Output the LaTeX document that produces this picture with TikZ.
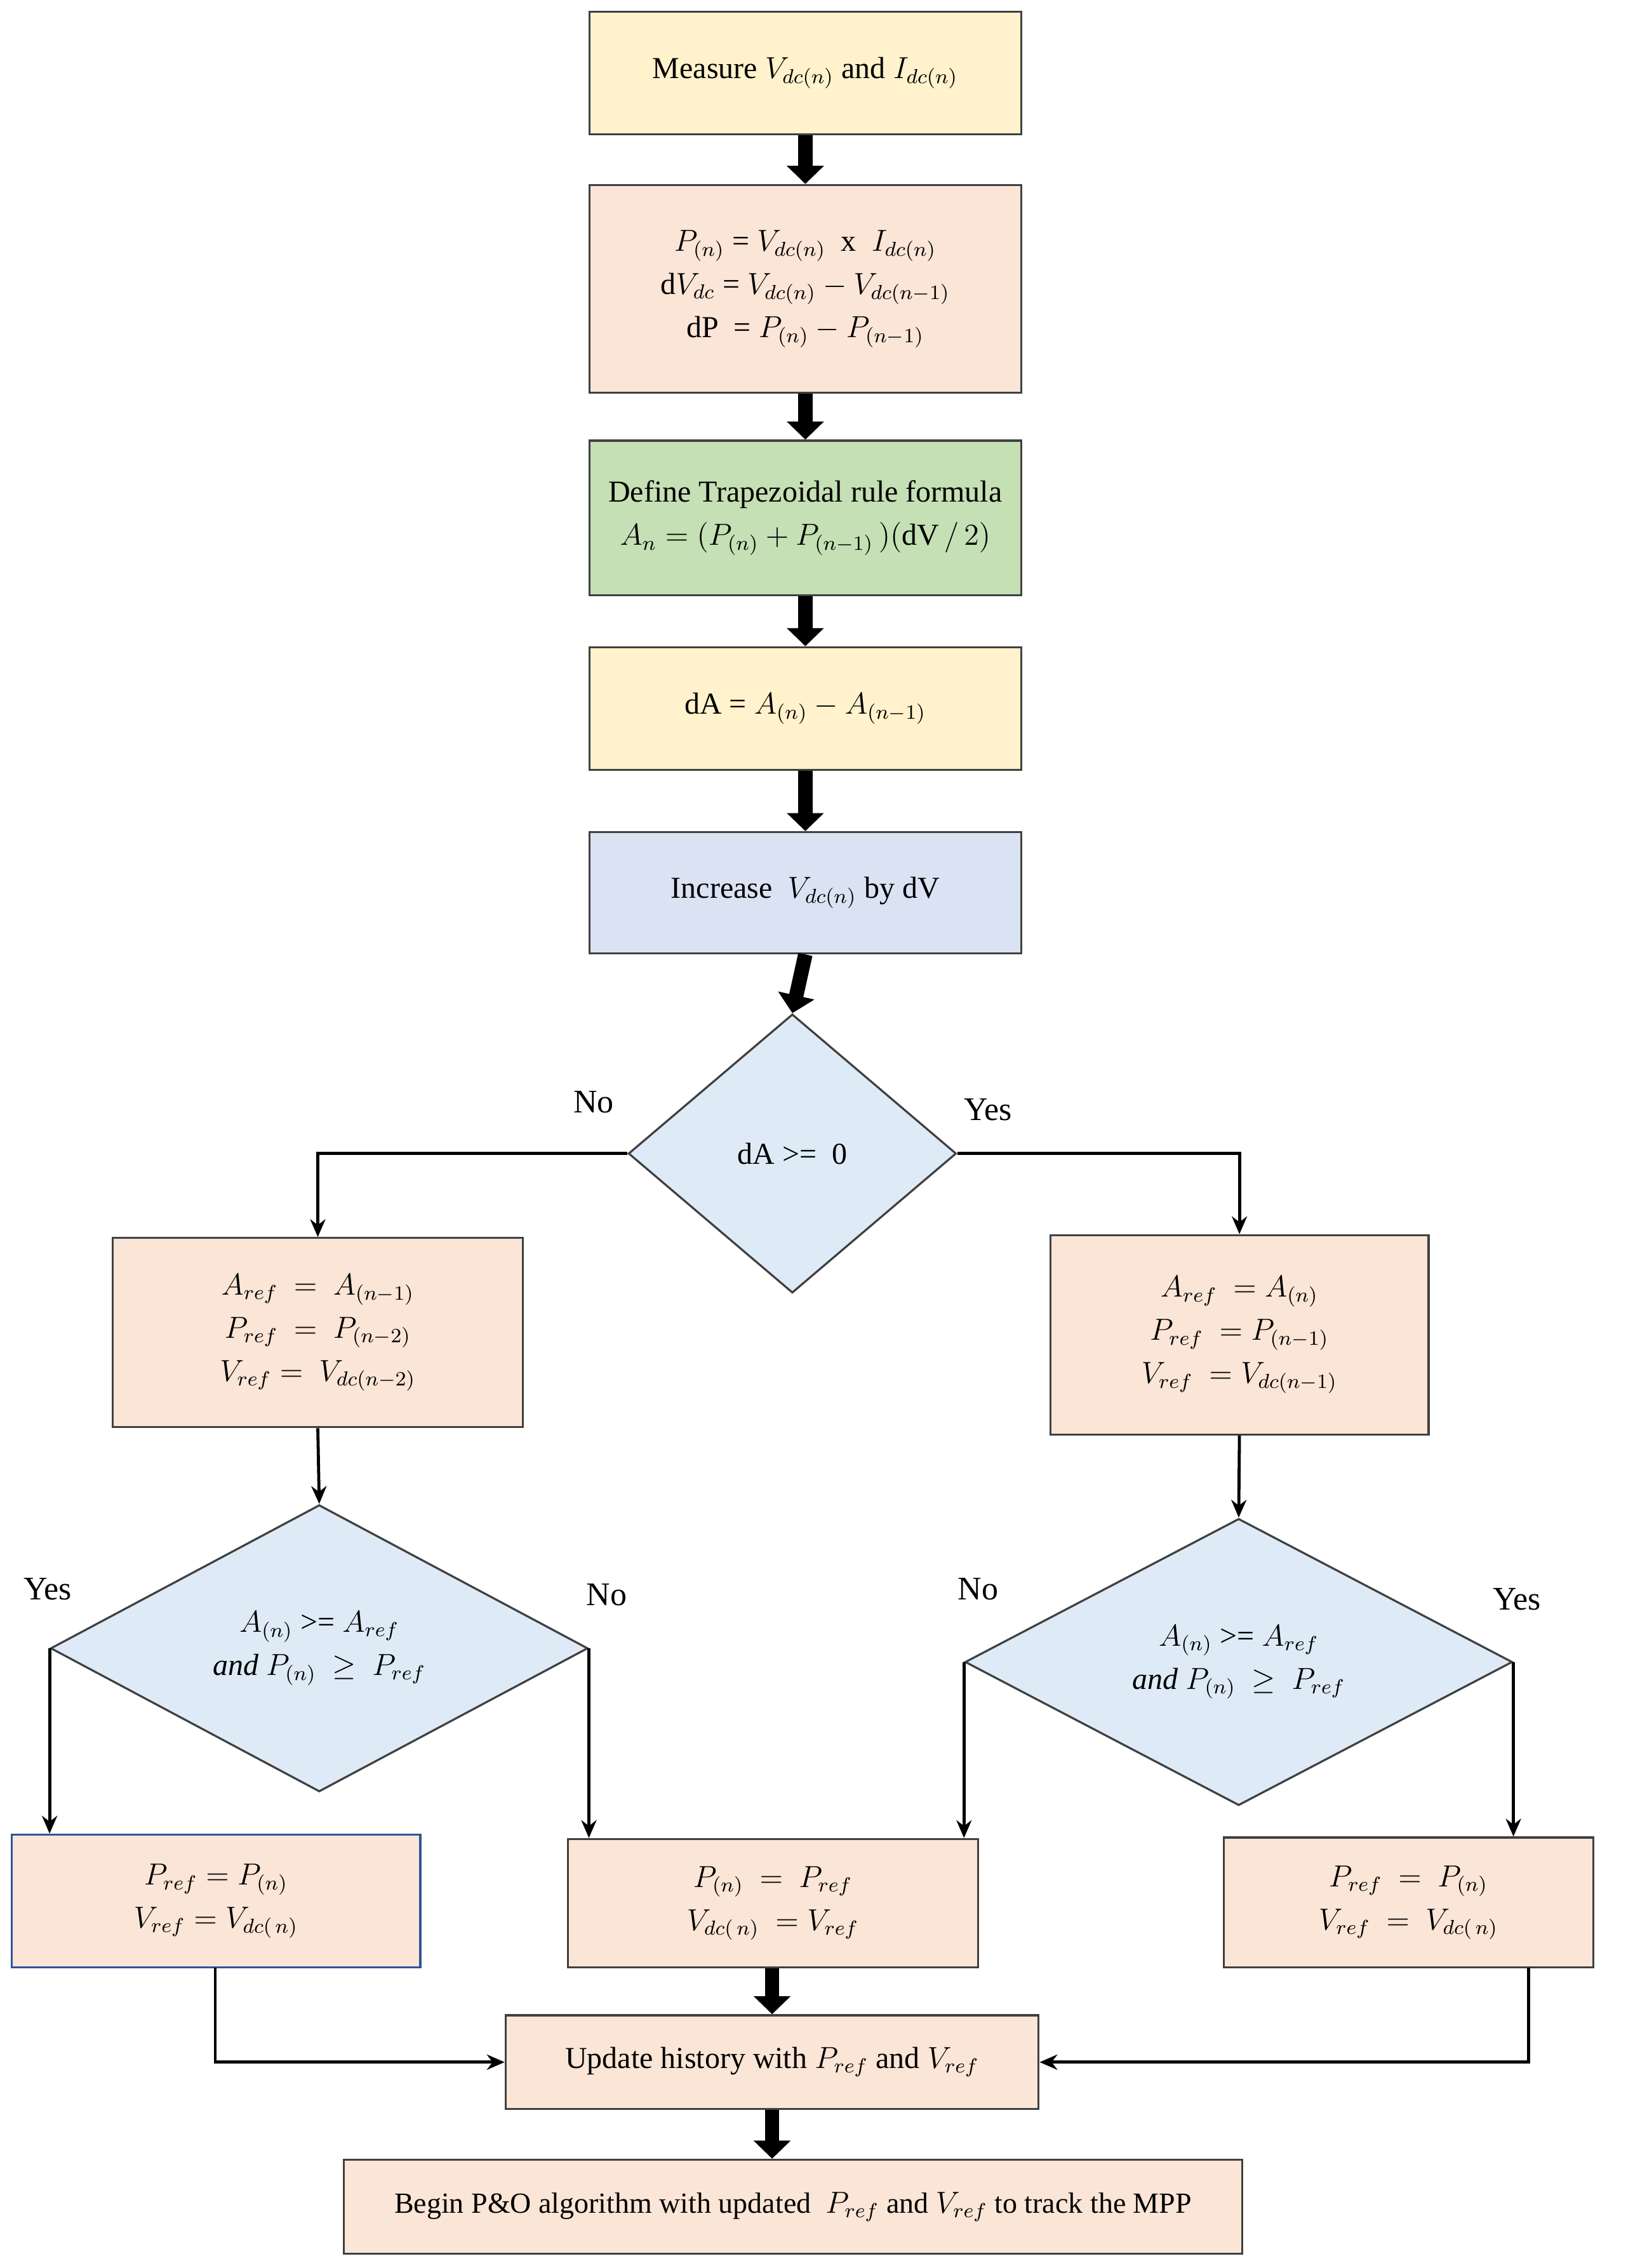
\documentclass[tikz,border=0pt]{standalone}
\usepackage{fontspec}
\setmainfont{Liberation Serif}
\usetikzlibrary{shapes.geometric,arrows.meta}
\definecolor{cy}{HTML}{FFF2CC}
\definecolor{cp}{HTML}{FBE5D6}
\definecolor{cg}{HTML}{C5E0B4}
\definecolor{cb}{HTML}{DAE3F3}
\definecolor{cd}{HTML}{DEEBF7}
\definecolor{bd}{HTML}{404040}
\begin{document}
\begin{tikzpicture}[x=0.02cm,y=-0.02cm,
  font=\fontsize{12}{17}\selectfont,
  box/.style={draw=bd,line width=0.8pt,align=center,inner sep=2pt},
  dia/.style={diamond,draw=bd,line width=0.8pt,fill=cd,align=center,inner sep=0pt},
  big/.style={line width=0.2cm,-{Triangle[width=0.5cm,length=0.25cm]}},
  thin/.style={line width=1.2pt,-{Stealth[length=7pt,width=6pt]}},
  lab/.style={font=\fontsize{13}{15}\selectfont}]
\useasboundingbox (0,0) rectangle (1140,1570);
\node[box,fill=cy,minimum width=5.98cm,minimum height=1.70cm] (m) at (557.5,50.5) {Measure $V_{dc(n)}$ and $I_{dc(n)}$};
\node[box,fill=cp,minimum width=5.98cm,minimum height=2.88cm] (p) at (557.5,200) {$P_{(n)}$ = $V_{dc(n)}$ \ x \ $I_{dc(n)}$\\ d$V_{dc}$ = $V_{dc(n)} - V_{dc(n-1)}$\\ dP \ = $P_{(n)} - P_{(n-1)}$};
\node[box,fill=cg,minimum width=5.98cm,minimum height=2.14cm] (t) at (557.5,358.5) {Define Trapezoidal rule formula\\ $A_n = (P_{(n)} + P_{(n-1)}\,)(\mathrm{dV}\,/\,2)$};
\node[box,fill=cy,minimum width=5.98cm,minimum height=1.70cm] (da) at (557.5,490.5) {dA = $A_{(n)} - A_{(n-1)}$};
\node[box,fill=cb,minimum width=5.98cm,minimum height=1.68cm] (inc) at (557.5,618) {Increase \ $V_{dc(n)}$ by dV};
\node[dia,minimum width=4.54cm,minimum height=3.86cm] (d1) at (548.5,798.5) {dA >= \ 0};
\node[box,fill=cp,minimum width=5.68cm,minimum height=2.62cm] (l) at (220,922.5) {$A_{ref} \ = \ A_{(n-1)}$\\ $P_{ref} \ = \ P_{(n-2)}$\\ $V_{ref} = \ V_{dc(n-2)}$};
\node[box,fill=cp,minimum width=5.24cm,minimum height=2.76cm] (r) at (858,924) {$A_{ref} \ = A_{(n)}$\\ $P_{ref} \ = P_{(n-1)}$\\ $V_{ref} \ = V_{dc(n-1)}$};
\node[dia,minimum width=7.44cm,minimum height=3.56cm] (d2) at (221,1141) {$A_{(n)}$ >= $A_{ref}$\\ \textit{and} $P_{(n)} \ \geq \ P_{ref}$};
\node[dia,minimum width=7.58cm,minimum height=3.54cm] (d3) at (857.5,1150.5) {$A_{(n)}$ >= $A_{ref}$\\ \textit{and} $P_{(n)} \ \geq \ P_{ref}$};
\node[box,draw={rgb,255:red,47;green,85;blue,151},fill=cp,minimum width=5.66cm,minimum height=1.84cm] (ll) at (149.5,1316) {$P_{ref} = P_{(n)}$\\ $V_{ref} = V_{dc(\,n)}$};
\node[box,fill=cp,minimum width=5.68cm,minimum height=1.78cm] (mid) at (535,1317.5) {$P_{(n)} \ = \ P_{ref}$\\ $V_{dc(\,n)} \ = V_{ref}$};
\node[box,fill=cp,minimum width=5.12cm,minimum height=1.80cm] (rr) at (975,1317) {$P_{ref} \ = \ P_{(n)}$\\ $V_{ref} \ = \ V_{dc(\,n)}$};
\node[box,fill=cp,minimum width=7.38cm,minimum height=1.30cm] (u) at (534.5,1427.5) {Update history with $P_{ref}$ and $V_{ref}$};
\node[box,fill=cp,minimum width=12.44cm,minimum height=1.30cm,font=\fontsize{11.5}{14}\selectfont] (b) at (549,1527.5) {Begin P\&O algorithm with updated \ $P_{ref}$ and $V_{ref}$ to track the MPP};
% thick arrows
\foreach \a/\c in {m/p,p/t,t/da,da/inc}{\draw[big] (\a.south) -- (\c.north);}
\draw[big] (inc.south) -- (d1.north);
\draw[big] (mid.south -| u.north) -- (u.north);
\draw[big] (u.south) -- (u.south |- b.north);
% thin connectors
\draw[thin] (d1.west) -| (l.north);
\draw[thin] (d1.east) -| (r.north);
\draw[thin] (l.south) -- (d2.north);
\draw[thin] (r.south) -- (d3.north);
\draw[thin] (d2.west) -- (d2.west |- ll.north);
\draw[thin] (d2.east) -- (d2.east |- mid.north);
\draw[thin] (d3.west) -- (d3.west |- mid.north);
\draw[thin] (d3.east) -- (d3.east |- rr.north);
\coordinate (c1) at (149,1362);
\coordinate (c2) at (1058,1362);
\draw[thin] (c1) |- (u.west);
\draw[thin] (c2) |- (u.east);
% labels
\node[lab] (n1) at (411,763) {No};
\node[lab] (y1) at (684,768) {Yes};
\node[lab] (y2) at (33,1100) {Yes};
\node[lab] (n2) at (420,1104) {No};
\node[lab] (n3) at (677,1100) {No};
\node[lab] (y3) at (1050,1107) {Yes};
\end{tikzpicture}
\end{document}
